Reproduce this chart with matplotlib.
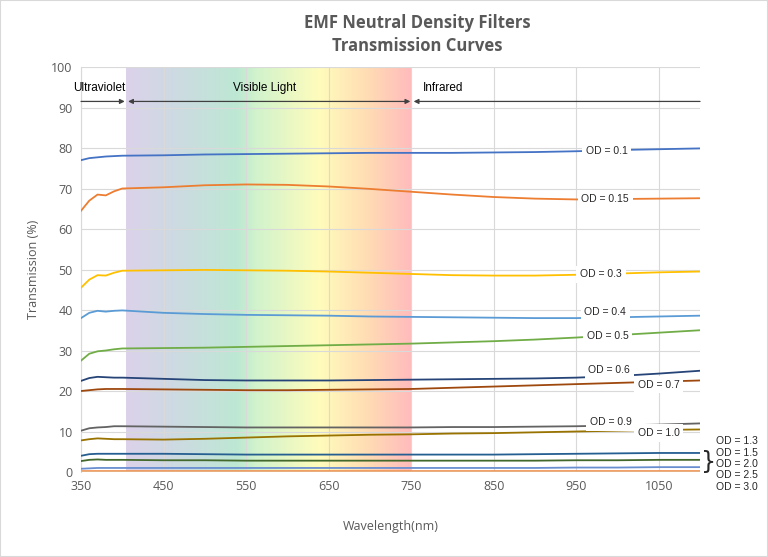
import numpy as np
import matplotlib
matplotlib.use("Agg")
import matplotlib.pyplot as plt
from matplotlib.colors import LinearSegmentedColormap
from matplotlib.patches import Rectangle

wavelength = [350, 360, 370, 380, 390, 400, 450, 500, 550, 600, 650, 700, 750,
              800, 850, 900, 950, 1000, 1050, 1100]

od_names = ["0.1", "0.15", "0.3", "0.4", "0.5", "0.6", "0.7", "0.9", "1.0",
            "1.3", "1.5", "2.0", "2.5", "3.0"]

t_01 = [77.0, 77.5, 77.7, 77.9, 78.0, 78.1, 78.2, 78.4, 78.5, 78.6, 78.7, 78.8, 78.8, 78.8, 78.9, 79.0, 79.2, 79.5, 79.7, 79.9]
t_015 = [64.5, 67.0, 68.5, 68.3, 69.3, 70.0, 70.3, 70.8, 71.0, 70.9, 70.5, 69.9, 69.2, 68.5, 67.9, 67.5, 67.3, 67.4, 67.5, 67.6]
t_03 = [45.5, 47.5, 48.6, 48.5, 49.2, 49.7, 49.8, 49.9, 49.8, 49.7, 49.5, 49.2, 48.9, 48.6, 48.5, 48.5, 48.7, 49.0, 49.3, 49.5]
t_04 = [38.0, 39.3, 39.8, 39.6, 39.8, 39.9, 39.3, 39.0, 38.8, 38.7, 38.6, 38.4, 38.3, 38.2, 38.1, 38.0, 38.0, 38.2, 38.4, 38.6]
t_05 = [27.5, 29.2, 29.8, 30.0, 30.3, 30.5, 30.6, 30.7, 30.9, 31.1, 31.3, 31.5, 31.7, 32.0, 32.3, 32.7, 33.2, 33.8, 34.4, 35.0]
t_06 = [22.5, 23.2, 23.5, 23.4, 23.3, 23.3, 23.0, 22.7, 22.6, 22.6, 22.6, 22.7, 22.8, 22.9, 23.0, 23.1, 23.3, 23.7, 24.3, 25.0]
t_07 = [20.0, 20.2, 20.4, 20.5, 20.5, 20.5, 20.4, 20.3, 20.2, 20.2, 20.3, 20.4, 20.5, 20.8, 21.1, 21.4, 21.7, 22.0, 22.3, 22.6]
t_09 = [10.2, 10.8, 11.0, 11.1, 11.3, 11.3, 11.2, 11.1, 11.0, 11.0, 11.0, 11.0, 11.0, 11.1, 11.1, 11.2, 11.3, 11.5, 11.7, 12.0]
t_10 = [7.8, 8.1, 8.3, 8.2, 8.1, 8.1, 8.0, 8.2, 8.5, 8.8, 9.0, 9.2, 9.3, 9.5, 9.6, 9.8, 10.0, 10.2, 10.4, 10.5]
t_13 = [4.0, 4.4, 4.5, 4.5, 4.5, 4.5, 4.5, 4.4, 4.3, 4.3, 4.3, 4.3, 4.3, 4.3, 4.3, 4.4, 4.5, 4.6, 4.7, 4.7]
t_15 = [2.7, 3.0, 3.1, 3.0, 3.0, 3.0, 2.9, 2.9, 2.8, 2.8, 2.8, 2.8, 2.8, 2.8, 2.8, 2.8, 2.9, 2.9, 3.0, 3.0]
t_20 = [0.8, 0.9, 1.0, 1.0, 1.0, 1.0, 1.0, 1.0, 1.0, 1.0, 1.0, 1.0, 1.0, 1.0, 1.0, 1.0, 1.1, 1.1, 1.2, 1.2]
t_25 = [0.3] * 20
t_30 = [0.1] * 20

curves = [t_01, t_015, t_03, t_04, t_05, t_06, t_07, t_09, t_10, t_13, t_15, t_20, t_25, t_30]
colors = ["#4472C4", "#ED7D31", "#FFC000", "#5B9BD5", "#70AD47", "#264478",
          "#9E480E", "#636363", "#997300", "#255E91", "#43682B", "#698ED0",
          "#F1975A", "#E8B080"]

# inline label positions (wavelength, transmission) for the upper curves
label_x = [987, 985, 980, 985, 988, 990, 1050, 992, 1050]
label_y = [79.3, 67.5, 48.8, 39.4, 33.6, 25.2, 21.6, 12.3, 9.6]

# spectral regions
uv_end = 405
vis_end = 750
grad_colors = ["#dcd2ea", "#d0d8e4", "#c4e2da", "#bde8d3", "#d2f3cc", "#fffcbc", "#ffdcb4", "#ffbcbc"]
grad_stops = [0.0, 0.13, 0.30, 0.39, 0.46, 0.68, 0.85, 1.0]

fig = plt.figure(figsize=(7.68, 5.57), dpi=100)
ax = fig.add_axes([0.1055, 0.1526, 0.806, 0.7271])

cmap = LinearSegmentedColormap.from_list("vis", list(zip(grad_stops, grad_colors)))
grad = np.linspace(0, 1, 400).reshape(1, -1)
ax.imshow(grad, cmap=cmap, extent=[uv_end, vis_end, 0, 100], aspect="auto", zorder=0)

for vals, col in zip(curves, colors):
    ax.plot(wavelength, vals, color=col, lw=1.3, zorder=3)

for name, lx, ly in zip(od_names, label_x, label_y):
    ax.text(lx, ly, "OD = " + name, fontsize=7.5, family="Liberation Sans",
            color="#262626", ha="center", va="center", zorder=4,
            bbox=dict(boxstyle="square,pad=0.35", fc="white", ec="none"))

# region arrows
ay = 91.5
arrow = dict(arrowstyle="-|>", color="#404040", lw=0.9, mutation_scale=7, shrinkA=0, shrinkB=0)
ax.annotate("", xy=(uv_end - 2, ay), xytext=(350, ay), arrowprops=arrow, zorder=5)
ax.annotate("", xy=(vis_end - 1, ay), xytext=(uv_end + 2, ay),
            arrowprops=dict(arrow, arrowstyle="<|-|>"), zorder=5)
ax.annotate("", xy=(vis_end + 3, ay), xytext=(1100, ay), arrowprops=arrow, zorder=5)
ax.text(372, 94.7, "Ultraviolet", fontsize=8.5, family="Liberation Sans", ha="center", va="center")
ax.text(572, 94.7, "Visible Light", fontsize=8.5, family="Liberation Sans", ha="center", va="center")
ax.text(764, 94.7, "Infrared", fontsize=8.5, family="Liberation Sans", ha="left", va="center")

ax.set_xlim(350, 1100)
ax.set_ylim(0, 100)
ax.set_xticks(range(350, 1100, 100))
ax.set_yticks(range(0, 101, 10))
ax.grid(True, color="#d9d9d9", lw=0.8)
ax.set_axisbelow("line")
for s in ["top", "right", "bottom"]:
    ax.spines[s].set_visible(False)
ax.spines["left"].set_color("#d9d9d9")
ax.tick_params(length=0, labelsize=9, labelcolor="#595959", pad=6)
for lab in ax.get_xticklabels() + ax.get_yticklabels():
    lab.set_family("Open Sans")

ax.set_xlabel("Wavelength(nm)", fontsize=9, color="#595959", family="Open Sans", labelpad=19)
ax.set_ylabel("Transmission (%)", fontsize=9, color="#595959", family="Open Sans", labelpad=8)

fig.text(0.543, 0.958, "EMF Neutral Density Filters", fontsize=12, fontweight="bold",
         family="Open Sans", color="#595959", ha="center", va="center")
fig.text(0.543, 0.917, "Transmission Curves", fontsize=12, fontweight="bold",
         family="Open Sans", color="#595959", ha="center", va="center")

# stacked labels for the low curves
for i, name in enumerate(od_names[9:]):
    fig.text(0.96, 1 - (441 + 11.5 * i) / 557, "OD = " + name, fontsize=7.5,
             family="Liberation Sans", color="#262626", ha="center", va="center")
fig.text(0.922, 1 - 462 / 557, "}", fontsize=17, family="DejaVu Sans",
         color="#262626", ha="center", va="center")

fig.patches.append(Rectangle((0, 0), 1, 1, transform=fig.transFigure, fill=False,
                             ec="#d9d9d9", lw=1.5))

fig.savefig("out.png", dpi=100)
